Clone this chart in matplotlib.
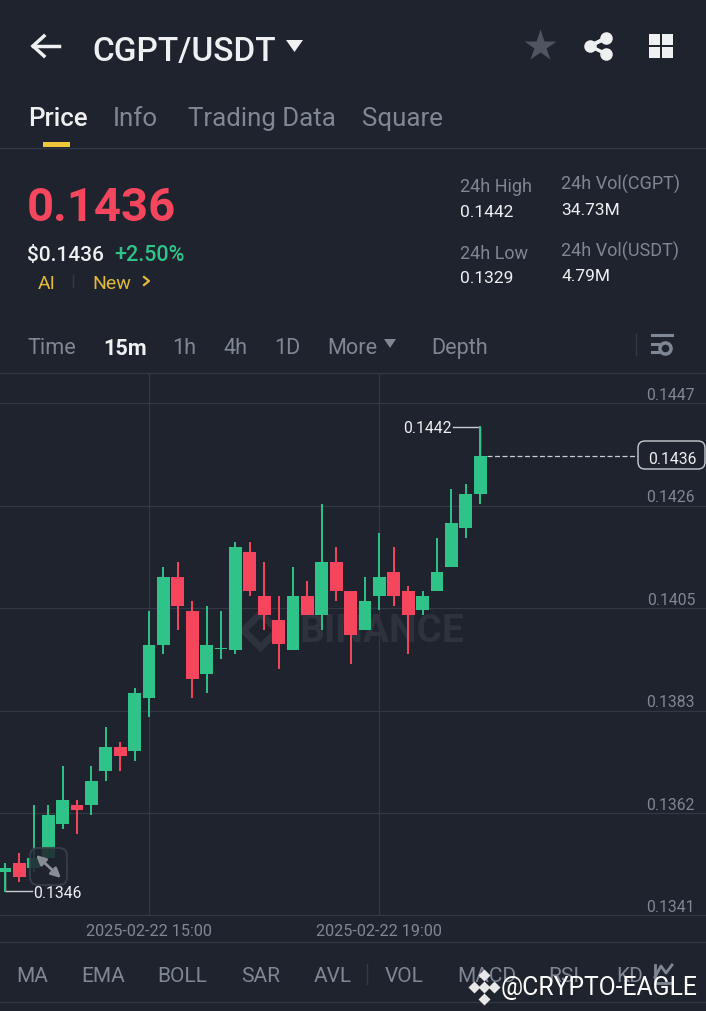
import matplotlib
matplotlib.use('Agg')
import matplotlib.pyplot as plt
from matplotlib.patches import FancyBboxPatch, Rectangle
from matplotlib.ticker import FixedLocator

plt.rcParams['font.family'] = ['Roboto', 'DejaVu Sans']

# candles, 15m each
opens = [.13499, .13518, .13507, .13528, .13599, .13638, .13638, .13708, .13758, .13750, .13859, .13969,
         .14110, .14039, .13909, .13961, .13959, .14162, .14070, .14021, .13959, .14070, .14031, .14141,
         .14081, .14000, .14070, .14120, .14081, .14042, .14081, .14131, .14211, .14282]
highs = [.13518, .13539, .13638, .13638, .13719, .13648, .13719, .13799, .13768, .13880, .14039, .14131,
         .14141, .14060, .14050, .14039, .14182, .14182, .14141, .14070, .14131, .14102, .14261, .14172,
         .14081, .14110, .14201, .14172, .14091, .14081, .14191, .14292, .14302, .14422]
lows = [.13458, .13479, .13499, .13528, .13588, .13578, .13617, .13688, .13708, .13729, .13820, .13950,
        .14000, .13859, .13870, .13940, .13950, .14070, .14000, .13919, .13959, .14031, .14000, .14060,
        .13930, .14000, .14042, .14050, .13950, .14031, .14081, .14131, .14191, .14261]
closes = [.13507, .13489, .13528, .13617, .13648, .13628, .13688, .13758, .13739, .13870, .13969, .14110,
          .14050, .13899, .13969, .13963, .14172, .14081, .14031, .13971, .14070, .14031, .14141, .14081,
          .13990, .14060, .14110, .14070, .14031, .14070, .14120, .14222, .14282, .14360]
y_ticks = [0.1447, 0.1426, 0.1405, 0.1383, 0.1362, 0.1341]
grid_prices = [0.1447, 0.14257, 0.14045, 0.13833, 0.13621, 0.1341]
x_tick_idx = [10, 26]
x_tick_labels = ['2025-02-22 15:00', '2025-02-22 19:00']
last_price = 0.1436
high_price = 0.1442
low_price = 0.1346
tabs = ['Price', 'Info', 'Trading Data', 'Square']
intervals = ['Time', '15m', '1h', '4h', '1D', 'More', 'Depth']
indicators = ['MA', 'EMA', 'BOLL', 'SAR', 'AVL', 'VOL', 'MACD', 'RSI', 'KD']

BG = '#1e232d'
GREEN = '#2fc389'
RED = '#f6465d'
GRID = '#323843'
GRAY = '#7f8794'
WHITE = '#eef0f2'
YELLOW = '#e2b93b'
WMARK = '#2d323d'
W, H = 706, 1012

fig = plt.figure(figsize=(W / 100, H / 100), dpi=100, facecolor=BG)

# chart area, y 374..916 px
ax = fig.add_axes([0, 1 - 916 / H, 1, (916 - 374) / H], facecolor=BG)
ax.set_xlim(-0.347, 48.68)
ax.set_ylim(0.1341, 0.1447 + 30 * 2.07e-5)
for s in ax.spines.values():
    s.set_visible(False)
ax.set_yticks([])
ax.xaxis.set_major_locator(FixedLocator(x_tick_idx))
ax.set_xticklabels(x_tick_labels, fontsize=11.7, color=GRAY)
ax.tick_params(axis='x', length=0, pad=6)
for p in grid_prices:
    ax.axhline(p, color=GRID, lw=0.9, zorder=1, clip_on=False)
for i in x_tick_idx:
    ax.axvline(i, color=GRID, lw=0.9, zorder=1)

# watermark behind the candles
ax.text(26.2, 0.14, 'BINANCE', fontsize=28, fontweight='bold', color=WMARK, ha='center', va='center', zorder=1.5)
ax.plot([17.7], [0.14], marker='D', ms=17, mfc='none', mec=WMARK, mew=5, zorder=1.5)

for i in range(len(opens)):
    col = GREEN if closes[i] >= opens[i] else RED
    ax.plot([i, i], [lows[i], highs[i]], color=col, lw=1.4, solid_capstyle='butt', zorder=3)
    bot = min(opens[i], closes[i])
    ax.bar(i, abs(closes[i] - opens[i]), bottom=bot, width=0.88, color=col, zorder=4)

# high / low / last annotations
hi_i = highs.index(max(highs))
lo_i = lows.index(min(lows))
ax.plot([hi_i - 1.9, hi_i, hi_i], [high_price, high_price, opens[hi_i] + 0.0007], color='#c8ccd2', lw=1, zorder=2)
ax.text(hi_i - 1.95, high_price, f'{high_price:.4f}', color=WHITE, fontsize=11.3, ha='right', va='center')
ax.plot([lo_i, lo_i, lo_i + 1.9], [opens[lo_i], low_price, low_price], color='#c8ccd2', lw=1, zorder=2)
ax.text(lo_i + 1.95, low_price - 0.00003, f'{low_price:.4f}', color=WHITE, fontsize=11.3, ha='left', va='center')
ax.plot([33.5, 44], [last_price, last_price], color='#c8ccd2', lw=0.9, ls=(0, (4, 2)), zorder=2)

# price labels sit just above their grid lines
for t, p in zip(y_ticks, grid_prices):
    ax.text(695 / W, p + 0.000186, f'{t:.4f}', transform=ax.get_yaxis_transform(), color=GRAY, fontsize=11.3,
            ha='right', va='center', clip_on=False)

# everything around the chart, in pixel coordinates
ui = fig.add_axes([0, 0, 1, 1], facecolor='none')
ui.set_xlim(0, W)
ui.set_ylim(H, 0)
ui.axis('off')


def label(x, y, s, color=GRAY, size=14, weight='normal', ha='left'):
    ui.text(x, y + 3.5, s, color=color, fontsize=size, fontweight=weight, ha=ha, va='center')


# header
ui.plot([33, 59], [47, 47], color=WHITE, lw=2.5)
ui.plot([44, 33, 44], [37, 47, 57], color=WHITE, lw=2.5, solid_joinstyle='miter')
label(92, 48, 'CGPT/USDT', WHITE, 24, 'medium')
ui.fill([286, 303, 294.5], [41, 41, 53], color=WHITE, lw=0)
ui.plot([540], [47], marker='*', ms=24, color='#4f5560', mec='none')
ui.plot([590, 606, 590, 606], [47, 39, 47, 55], color=WHITE, lw=2.5)
ui.plot([590, 606, 606], [47, 39, 55], ls='none', marker='o', ms=8, color=WHITE)
for gx in (649, 662):
    for gy in (35, 48):
        ui.add_patch(Rectangle((gx, gy), 11, 11, color=WHITE, lw=0))

# tabs
tab_x = [28, 113, 188, 362]
for s, x in zip(tabs, tab_x):
    label(x, 115, s, WHITE if s == 'Price' else GRAY, 18.6, 'medium' if s == 'Price' else 'normal')
ui.add_patch(Rectangle((43, 143), 27, 5, color='#f0c63a', lw=0))
ui.plot([0, W], [149, 149], color=GRID, lw=1)

# price block
label(27, 204, '0.1436', RED, 34, 'bold')
label(27, 252, '$0.1436', WHITE, 15, 'medium')
label(114, 252, '+2.50%', GREEN, 15.5, 'medium')
label(38, 280, 'AI', YELLOW, 14)
ui.plot([73, 73], [276, 288], color='#333943', lw=1)
label(92, 280, 'New', YELLOW, 14)
ui.plot([144, 149, 144], [278, 282, 286], color=YELLOW, lw=1.6)

label(460, 183, '24h High', GRAY, 13)
label(460, 209, '0.1442', WHITE, 12.5)
label(460, 250, '24h Low', GRAY, 13)
label(460, 275, '0.1329', WHITE, 12.5)
label(561, 181, '24h Vol(CGPT)', GRAY, 13)
label(561, 207, '34.73M', WHITE, 12.5)
label(561, 248, '24h Vol(USDT)', GRAY, 13)
label(561, 273, '4.79M', WHITE, 12.5)

# interval row
int_x = [27, 103, 172, 223, 274, 327, 431]
for s, x in zip(intervals, int_x):
    label(x, 345, s, WHITE if s == '15m' else GRAY, 15.6, 'bold' if s == '15m' else 'normal')
ui.fill([384, 396, 390], [340, 340, 349], color=GRAY, lw=0)
ui.plot([636, 636], [335, 356], color='#333943', lw=1)
ui.plot([652, 672], [336, 336], color=GRAY, lw=2.2)
ui.plot([652, 658], [345, 345], color=GRAY, lw=2.2)
ui.plot([652, 658], [353, 353], color=GRAY, lw=2.2)
ui.plot([665], [349], marker='o', ms=8, mfc='none', mec=GRAY, mew=2.5)
ui.plot([0, W], [374, 374], color=GRID, lw=1)

# last price tag
ui.add_patch(FancyBboxPatch((638, 442), 67, 28, boxstyle='round,pad=0,rounding_size=7', fc=BG, ec='#c8ccd2', lw=1, zorder=5))
ui.text(672, 459, f'{last_price:.4f}', color=WHITE, fontsize=11.3, ha='center', va='center', zorder=6)

# expand button on top of the chart
ui.add_patch(FancyBboxPatch((30, 849), 37, 37, boxstyle='round,pad=0,rounding_size=8', fc=BG, ec='#3a404b', lw=1.5, alpha=0.85, zorder=5))
ui.annotate('', xy=(36, 856), xytext=(48, 867), arrowprops=dict(arrowstyle='-|>', color='#878c95', lw=2, mutation_scale=14, shrinkA=0, shrinkB=0), zorder=6)
ui.annotate('', xy=(61, 879), xytext=(49, 868), arrowprops=dict(arrowstyle='-|>', color='#878c95', lw=2, mutation_scale=14, shrinkA=0, shrinkB=0), zorder=6)

# indicator row
ui.plot([0, W], [943, 943], color=GRID, lw=1)
ui.plot([0, W], [1003, 1003], color=GRID, lw=1)
ind_x = [16, 81, 157, 241, 314, 385, 457, 548, 616]
for s, x in zip(indicators, ind_x):
    label(x, 973, s, GRAY, 15)
ui.plot([367, 367], [965, 985], color='#333943', lw=1)
ui.plot([655, 661, 666, 672], [978, 967, 974, 966], color=GRAY, lw=2)
ui.plot([655, 655, 672], [966, 984, 984], color=GRAY, lw=2)

# square-feed watermark
for dx, dy in [(484, 976), (474, 988), (494, 988), (484, 1000), (484, 988)]:
    ui.plot([dx], [dy], marker='D', ms=6.5, color='#e8e8e8', mec='none', zorder=7)
ui.text(501, 988, '@CRYPTO-EAGLE', color='white', fontsize=17.8, ha='left', va='center', zorder=7)

fig.savefig('out.png', dpi=100, facecolor=BG)
